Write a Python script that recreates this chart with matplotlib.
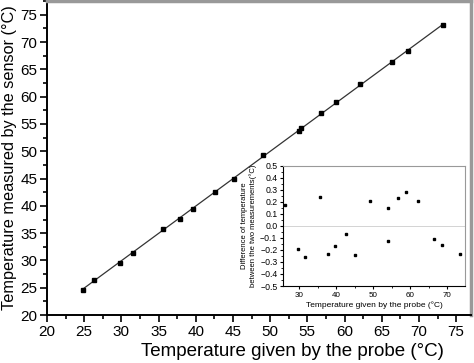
import numpy as np
import matplotlib
matplotlib.use("Agg")
import matplotlib.pyplot as plt
from matplotlib.ticker import MultipleLocator

plt.rcParams['font.family'] = ['Liberation Sans', 'DejaVu Sans']

# temperatures donnees par la sonde et mesurees par le capteur (degC)
probe = [24.8, 26.3, 29.8, 31.6, 35.6, 37.9, 39.6, 42.6, 45.1, 49.1,
         53.9, 54.1, 56.8, 58.8, 62.1, 66.4, 68.5, 73.3]
diff = [-0.15, 0.17, -0.19, -0.26, 0.24, -0.23, -0.17, -0.07, -0.24, 0.21,
        -0.13, 0.15, 0.23, 0.28, 0.21, -0.11, -0.16, -0.23]
sensor = [24.65, 26.47, 29.61, 31.34, 35.84, 37.67, 39.43, 42.53, 44.86, 49.31,
          53.77, 54.25, 57.03, 59.08, 62.31, 66.29, 68.34, 73.07]

fig = plt.figure(figsize=(4.74, 3.63), dpi=100)
ax = fig.add_axes([0.099, 0.132, 0.8947, 0.865])

# droite de regression
a, b = np.polyfit(probe, sensor, 1)
xs = np.array([min(probe), max(probe)])
ax.plot(xs, a * xs + b, color='#333333', lw=0.9)
ax.plot(probe, sensor, 's', color='black', ms=3.2)

ax.set_xlim(20, 77)
ax.set_ylim(20, 77.5)
ax.xaxis.set_major_locator(MultipleLocator(5))
ax.xaxis.set_minor_locator(MultipleLocator(2.5))
ax.yaxis.set_major_locator(MultipleLocator(5))
ax.yaxis.set_minor_locator(MultipleLocator(2.5))
ax.tick_params(which='both', direction='out', top=False, right=False, width=1.2)
ax.tick_params(which='major', length=5, labelsize=11, pad=2)
ax.tick_params(which='minor', length=3)
for s in ['left', 'bottom']:
    ax.spines[s].set_linewidth(1.4)
for s in ['top', 'right']:
    ax.spines[s].set_color('#999999')
    ax.spines[s].set_linewidth(2.5)
ax.set_xlabel("Temperature given by the probe (°C)", fontsize=13.5)
ax.xaxis.set_label_coords(0.578, -0.088)
ax.set_ylabel("Temperature measured by the sensor (°C)", fontsize=11.7, labelpad=2)

# encart : difference entre les deux mesures
ins = fig.add_axes([0.597, 0.2121, 0.3846, 0.3314])
ins.axhline(0, color='#cccccc', lw=0.6)
ins.plot(probe, diff, 's', color='black', ms=2.0)
ins.set_xlim(25.7, 74.8)
ins.set_ylim(-0.5, 0.5)
ins.xaxis.set_major_locator(MultipleLocator(10))
ins.xaxis.set_minor_locator(MultipleLocator(5))
ins.yaxis.set_major_locator(MultipleLocator(0.1))
ins.yaxis.set_minor_locator(MultipleLocator(0.05))
ins.tick_params(which='both', direction='out', top=False, right=False, pad=1.5)
ins.tick_params(axis='x', labelsize=5.8)
ins.tick_params(axis='y', labelsize=6.3)
ins.tick_params(which='major', length=2.5)
ins.tick_params(which='minor', length=1.2)
for s in ['top', 'right']:
    ins.spines[s].set_color('#999999')
ins.set_xlabel("Temperature given by the probe (°C)", fontsize=6, labelpad=2)
ins.set_ylabel("Difference of temperature\nbetween the two measurements(°C)", fontsize=5.5, labelpad=2)

fig.savefig("out.png", dpi=100)
